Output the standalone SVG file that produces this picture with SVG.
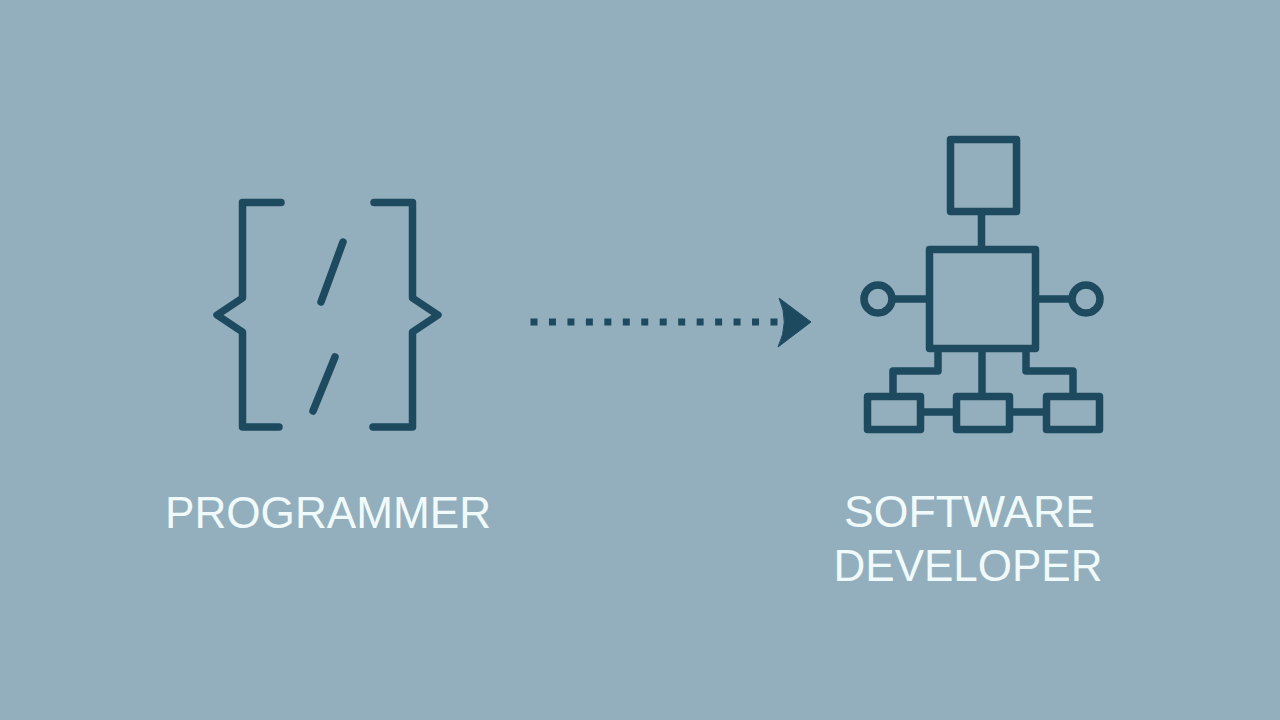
<svg xmlns="http://www.w3.org/2000/svg" width="1280" height="720" viewBox="0 0 1280 720">
<style>
.s{fill:none;stroke:#1e4a5f;stroke-width:7.500;stroke-linejoin:round;stroke-linecap:round}
.j{stroke-linecap:butt}
.t{font-family:"Liberation Sans",Arial,sans-serif;font-size:44px;fill:#f0fafb}
</style>
<rect width="1280" height="720" fill="#93afbd"/>
<g id="programmer">
<path class="s" d="M281 202.500H242.500V298L217 315L242.500 332V427H279"/>
<path class="s" d="M374 202.500H412.500V298L438 315L412.500 332V427H373"/>
<path class="s" d="M343 242L321 302"/>
<path class="s" d="M335 357L313 411"/>
<text class="t" x="165" y="528" textLength="326" lengthAdjust="spacingAndGlyphs">PROGRAMMER</text>
</g>
<g id="software-developer">
<rect class="s" x="950.500" y="139.500" width="66" height="72"/>
<rect class="s" x="929.500" y="249.500" width="106" height="99"/>
<circle class="s" cx="878" cy="299" r="14"/>
<circle class="s" cx="1086" cy="299" r="14"/>
<rect class="s" x="867.500" y="396.500" width="53" height="33"/>
<rect class="s" x="956.500" y="396.500" width="53" height="33"/>
<rect class="s" x="1046.500" y="396.500" width="53" height="33"/>
<text class="t" x="844" y="527" textLength="251" lengthAdjust="spacingAndGlyphs">SOFTWARE</text>
<text class="t" x="833.500" y="581" textLength="269" lengthAdjust="spacingAndGlyphs">DEVELOPER</text>
</g>
<g id="connectors">
<path class="s j" d="M981.500 215V246"/>
<path class="s j" d="M895 299H926M1039 299H1070"/>
<path class="s j" d="M982 352V393"/>
<path class="s j" d="M938 352V371H893V393"/>
<path class="s j" d="M1026 352V371H1073V393"/>
<path class="s j" d="M924 412H953M1013 412H1043"/>
<line x1="530.500" y1="322" x2="778" y2="322" fill="none" stroke="#1e4a5f" stroke-width="7" stroke-dasharray="7 11.460"/>
<path d="M779 298L811 322L778 347Q790 322 779 298Z" fill="#1e4a5f" stroke="#1e4a5f" stroke-width="1" stroke-linejoin="round"/>
</g>
</svg>
